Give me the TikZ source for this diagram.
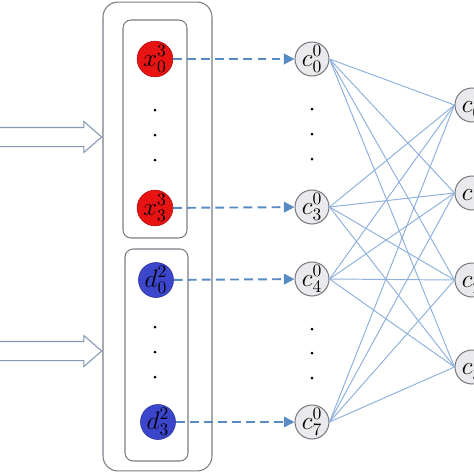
\documentclass[tikz,border=0pt]{standalone}
\usepackage{amsmath}
\usetikzlibrary{arrows.meta,shapes.arrows}

\definecolor{boxgray}{RGB}{120,124,130}
\definecolor{arrowgray}{RGB}{132,151,176}
\definecolor{nodered}{RGB}{232,20,20}
\definecolor{nodeblue}{RGB}{60,70,205}
\definecolor{dashblue}{RGB}{88,138,196}
\definecolor{linkblue}{RGB}{142,176,220}
\definecolor{cellgray}{RGB}{234,234,236}

\begin{document}
\begin{tikzpicture}
[
	               x = 0.02cm,
	               y = -0.02cm,
	   frame/.style = { draw=boxgray, rounded corners=0.3cm, line width=0.6pt, inner sep=0 },
	   group/.style = { draw=boxgray, rounded corners=0.16cm, line width=0.6pt, inner sep=0 },
	   round/.style = { circle, minimum size=0.68cm, inner sep=0, font=\Large },
	     red/.style = { round, fill=nodered, draw=nodered!80!black },
	    blue/.style = { round, fill=nodeblue, draw=nodeblue!80!black },
	    cell/.style = { round, fill=cellgray, draw=boxgray, line width=0.6pt },
	     dot/.style = { circle, fill=black, minimum size=0.06cm, inner sep=0 },
	  hollow/.style = { single arrow, draw=arrowgray, fill=white, line width=0.6pt, anchor=tip,
	                    minimum height=2.1cm, inner xsep=0, inner ysep=0.18cm,
	                    single arrow head extend=0.12cm, single arrow tip angle=82 },
	    feed/.style = { draw=dashblue, line width=1.1pt, dash pattern=on 5pt off 3pt,
	                    -{Triangle[length=6pt,width=6pt]} },
	    link/.style = { draw=linkblue, line width=0.55pt }
]
	\useasboundingbox (0,0) rectangle (474,474);
	\clip (0,0) rectangle (474,474);

	\node (frame) at (157.5,236.5) [frame, minimum width=2.18cm, minimum height=9.38cm] {};
	\node (upper) at (155,129)     [group, minimum width=1.28cm, minimum height=4.36cm] {};
	\node (lower) at (156.5,355)   [group, minimum width=1.26cm, minimum height=4.24cm] {};

	\node (in1) at (frame.west |- 0,137) [hollow] {};
	\node (in2) at (frame.west |- 0,351) [hollow] {};

	\node (x0) at (155,59)  [red]  {$x_0^3$};
	\node (x3) at (155,208) [red]  {$x_3^3$};
	\node (d0) at (156,280) [blue] {$d_0^2$};
	\node (d3) at (158,422) [blue] {$d_3^2$};

	\foreach \y in {110,135,160,327,352,377}
		\node at (155,\y) [dot] {};

	\node (c0) at (312,59)  [cell] {$c_0^0$};
	\node (c3) at (312,207) [cell] {$c_3^0$};
	\node (c4) at (312,279) [cell] {$c_4^0$};
	\node (c7) at (312,422) [cell] {$c_7^0$};

	\foreach \y in {109,134,159,329,353,378}
		\node at (312,\y) [dot] {};

	\node (r0) at (472,105) [cell] {$c_0^1$};
	\node (r1) at (472,193) [cell] {$c_1^1$};
	\node (r2) at (472,280) [cell] {$c_2^1$};
	\node (r3) at (472,367) [cell] {$c_3^1$};

	\draw [feed] (x0) -- (c0);
	\draw [feed] (x3) -- (c3);
	\draw [feed] (d0) -- (c4);
	\draw [feed] (d3) -- (c7);

	\foreach \a in {c0,c3,c4,c7}
		\foreach \b in {r0,r1,r2,r3}
			\draw [link] (\a.east) -- (\b.west);

\end{tikzpicture}
\end{document}
